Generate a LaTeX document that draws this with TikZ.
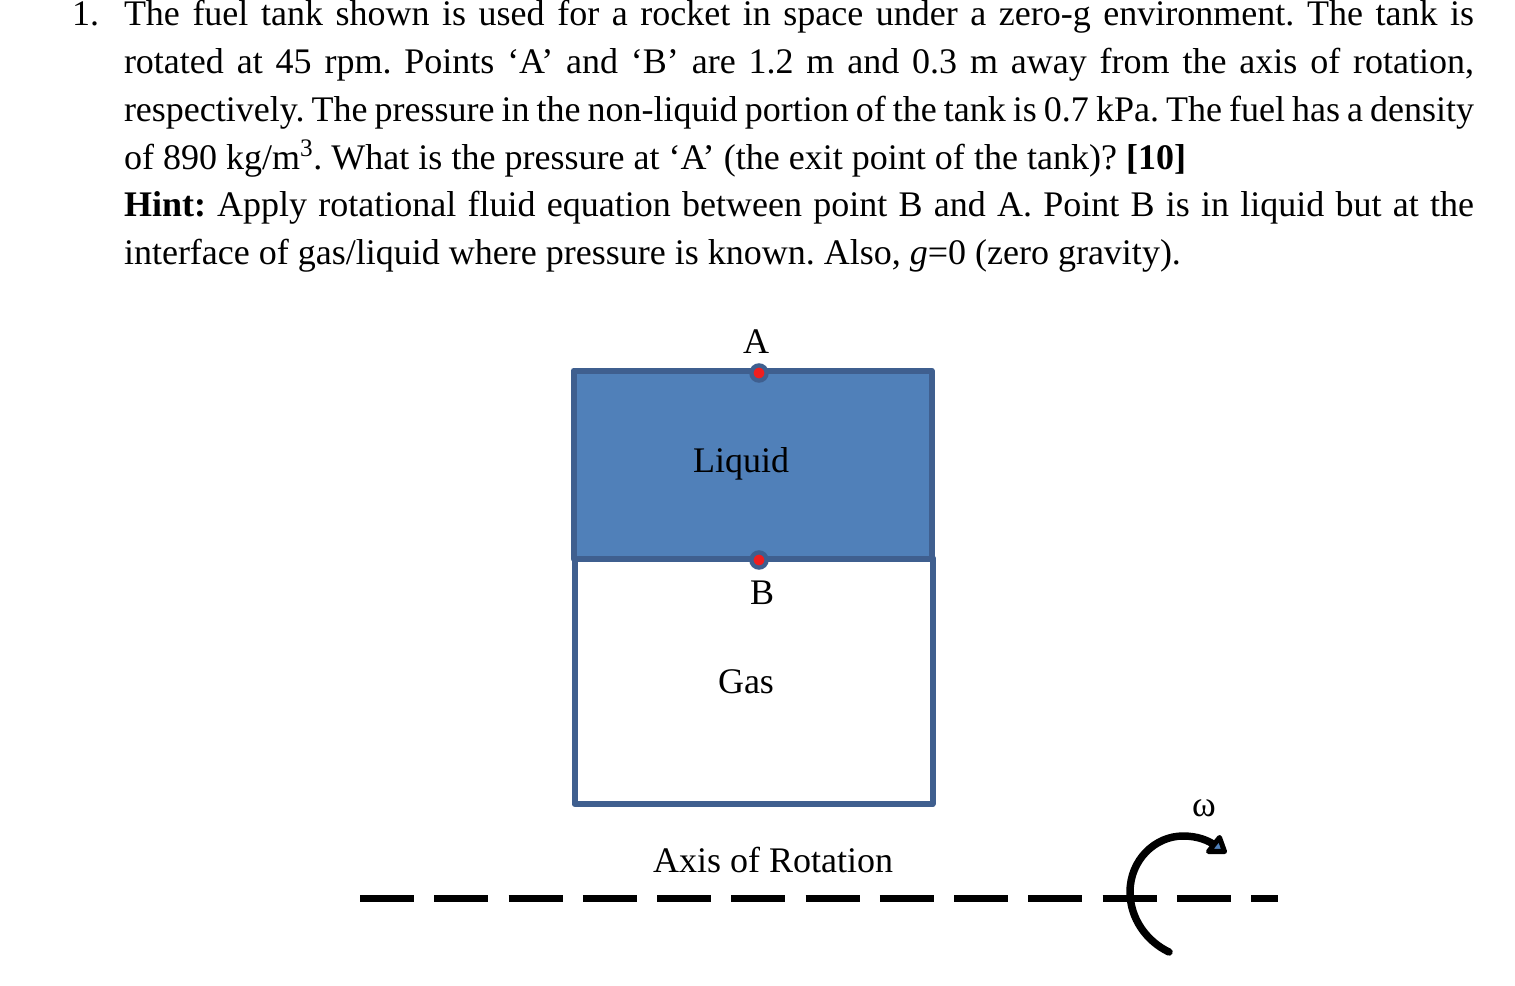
\documentclass[tikz,border=0pt]{standalone}
\usepackage{fontspec}
\setmainfont{Liberation Serif}
\definecolor{tankline}{HTML}{3F5F8F}
\definecolor{tankfill}{HTML}{5080B9}
\definecolor{ptred}{HTML}{F01E1E}
\newlength{\pxu}\setlength{\pxu}{0.75pt}
\newcommand{\jline}[2][1350]{\hbox to #1\pxu{\frenchspacing\spaceskip=0.25em plus 1fil minus 0.2em\relax #2}}
\tikzset{
  txt/.style={inner sep=0pt,outer sep=0pt,anchor=base west,font=\fontsize{27pt}{32pt}\selectfont},
  lbl/.style={inner sep=0pt,outer sep=0pt,anchor=base,font=\fontsize{27pt}{32pt}\selectfont},
  tank/.style={draw=tankline,line width=4.5pt,rectangle,inner sep=0pt,outer sep=0pt,line join=round,anchor=north west},
  pt/.style={circle,draw=tankline,fill=ptred,line width=3.2pt,minimum size=11.4pt,inner sep=0pt,outer sep=0pt},
  axisline/.style={line width=4.9pt,black,dash pattern=on 40.5pt off 15.2pt},
  spin/.style={line width=5.6pt,black,line cap=round}
}
\begin{document}
\begin{tikzpicture}[x=0.75pt,y=-0.75pt]
\useasboundingbox (0,0) rectangle (1515,985);
\node[txt] (n1) at (72,26) {1.};
\node[txt] (l1) at (124,26) {\jline{The fuel tank shown is used for a rocket in space under a zero-g environment. The tank is}};
\node[txt] (l2) at (124,73) {\jline{rotated at 45 rpm. Points ‘A’ and ‘B’ are 1.2 m and 0.3 m away from the axis of rotation,}};
\node[txt] (l3) at (124,121) {\jline{respectively. The pressure in the non-liquid portion of the tank is 0.7 kPa. The fuel has a density}};
\node[txt] (l4) at (124,169) {\jline[1062]{of 890 kg/m\textsuperscript{3}. What is the pressure at ‘A’ (the exit point of the tank)? \textbf{[10]}}};
\node[txt] (l5) at (124,216) {\jline{\textbf{Hint:} Apply rotational fluid equation between point B and A. Point B is in liquid but at the}};
\node[txt] (l6) at (124,264) {\frenchspacing interface of gas/liquid where pressure is known. Also, \textit{g}=0 (zero gravity).};
%
\node[tank,minimum width=268.5pt,minimum height=184.5pt] (gas) at (574.5,558) {};
\node[tank,fill=tankfill,minimum width=268.5pt,minimum height=141pt] (liquid) at (573.5,370.5) {};
\node[pt] (A) at (759,373) {};
\node[pt] (B) at (759,560) {};
\node[lbl] (tA) at (756,353) {A};
\node[lbl] (tB) at (762,604) {B};
\node[lbl] (tL) at (741,472) {Liquid};
\node[lbl] (tG) at (746,693) {Gas};
\node[lbl] (tX) at (773,872) {Axis of Rotation};
\node[lbl] (tW) at (1204,816) {ω};
%
\coordinate (ax1) at (360,898.5);
\coordinate (ax2) at (1278,898.5);
\draw[axisline] (ax1) -- (ax2);
\coordinate (s1) at (1169,952);
\coordinate (s2) at (1130,892);
\coordinate (s3) at (1183,836);
\coordinate (s4) at (1216,846);
\draw[spin] (s1) .. controls (1146,941) and (1130,918) .. (s2) .. controls (1130,860) and (1155,836) .. (s3) .. controls (1197,836) and (1208,840) .. (s4);
\draw[line width=3.8pt,black,fill=tankfill,line join=round] (1219.5,837.5) -- (1224.5,851.5) -- (1208.5,851.5) -- cycle;
\end{tikzpicture}
\end{document}
